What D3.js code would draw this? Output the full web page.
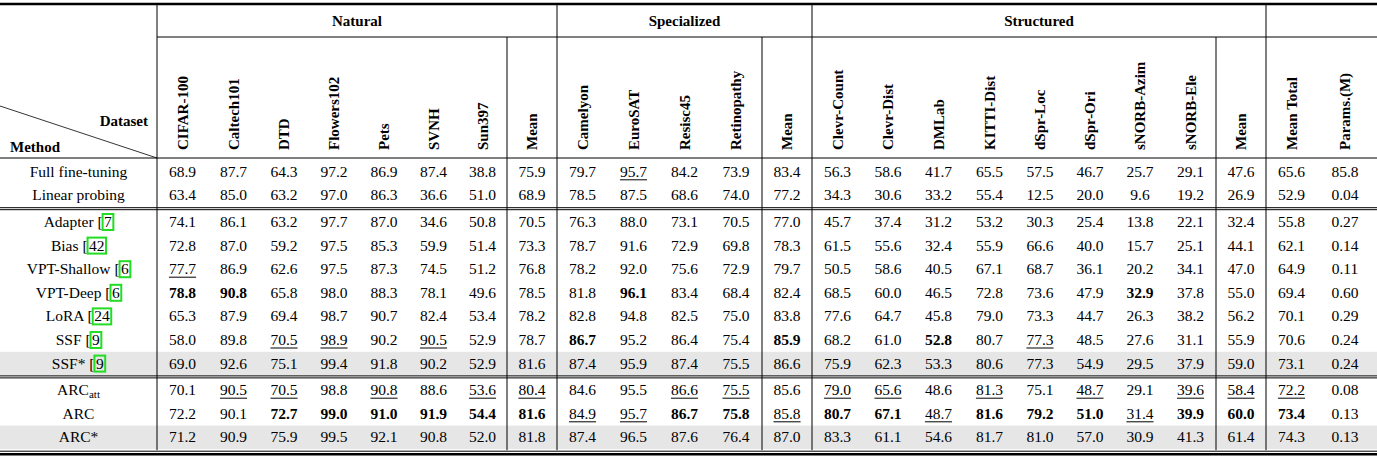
<!DOCTYPE html>
<html>
<head>
<meta charset="utf-8">
<script src="https://cdn.jsdelivr.net/npm/d3@7"></script>
<style>
  body { margin: 0; background: #fff; }
  svg text { font-family: "Liberation Serif", "Times New Roman", serif; fill: #000; }
</style>
</head>
<body>
<svg id="chart" width="1377" height="464"></svg>
<script>
const groups = ['Natural', 'Specialized', 'Structured'];
const columns = [
    'CIFAR-100', 'Caltech101', 'DTD', 'Flowers102', 'Pets', 'SVNH', 'Sun397', 'Mean',
    'Camelyon', 'EuroSAT', 'Resisc45', 'Retinopathy', 'Mean',
    'Clevr-Count', 'Clevr-Dist', 'DMLab', 'KITTI-Dist', 'dSpr-Loc', 'dSpr-Ori', 'sNORB-Azim', 'sNORB-Ele', 'Mean',
    'Mean Total', 'Params.(M)'
];
const methods = ['Full fine-tuning', 'Linear probing', 'Adapter', 'Bias', 'VPT-Shallow', 'VPT-Deep', 'LoRA', 'SSF', 'SSF*', 'ARC_att', 'ARC', 'ARC*'];
const refs = [null, null, '7', '42', '6', '6', '24', '9', '9', null, null, null];

const fullFT   = ['68.9','87.7','64.3','97.2','86.9','87.4','38.8','75.9','79.7','95.7','84.2','73.9','83.4','56.3','58.6','41.7','65.5','57.5','46.7','25.7','29.1','47.6','65.6','85.8'];
const linear   = ['63.4','85.0','63.2','97.0','86.3','36.6','51.0','68.9','78.5','87.5','68.6','74.0','77.2','34.3','30.6','33.2','55.4','12.5','20.0','9.6','19.2','26.9','52.9','0.04'];
const adapter  = ['74.1','86.1','63.2','97.7','87.0','34.6','50.8','70.5','76.3','88.0','73.1','70.5','77.0','45.7','37.4','31.2','53.2','30.3','25.4','13.8','22.1','32.4','55.8','0.27'];
const bias     = ['72.8','87.0','59.2','97.5','85.3','59.9','51.4','73.3','78.7','91.6','72.9','69.8','78.3','61.5','55.6','32.4','55.9','66.6','40.0','15.7','25.1','44.1','62.1','0.14'];
const vptShal  = ['77.7','86.9','62.6','97.5','87.3','74.5','51.2','76.8','78.2','92.0','75.6','72.9','79.7','50.5','58.6','40.5','67.1','68.7','36.1','20.2','34.1','47.0','64.9','0.11'];
const vptDeep  = ['78.8','90.8','65.8','98.0','88.3','78.1','49.6','78.5','81.8','96.1','83.4','68.4','82.4','68.5','60.0','46.5','72.8','73.6','47.9','32.9','37.8','55.0','69.4','0.60'];
const lora     = ['65.3','87.9','69.4','98.7','90.7','82.4','53.4','78.2','82.8','94.8','82.5','75.0','83.8','77.6','64.7','45.8','79.0','73.3','44.7','26.3','38.2','56.2','70.1','0.29'];
const ssf      = ['58.0','89.8','70.5','98.9','90.2','90.5','52.9','78.7','86.7','95.2','86.4','75.4','85.9','68.2','61.0','52.8','80.7','77.3','48.5','27.6','31.1','55.9','70.6','0.24'];
const ssfStar  = ['69.0','92.6','75.1','99.4','91.8','90.2','52.9','81.6','87.4','95.9','87.4','75.5','86.6','75.9','62.3','53.3','80.6','77.3','54.9','29.5','37.9','59.0','73.1','0.24'];
const arcAtt   = ['70.1','90.5','70.5','98.8','90.8','88.6','53.6','80.4','84.6','95.5','86.6','75.5','85.6','79.0','65.6','48.6','81.3','75.1','48.7','29.1','39.6','58.4','72.2','0.08'];
const arc      = ['72.2','90.1','72.7','99.0','91.0','91.9','54.4','81.6','84.9','95.7','86.7','75.8','85.8','80.7','67.1','48.7','81.6','79.2','51.0','31.4','39.9','60.0','73.4','0.13'];
const arcStar  = ['71.2','90.9','75.9','99.5','92.1','90.8','52.0','81.8','87.4','96.5','87.6','76.4','87.0','83.3','61.1','54.6','81.7','81.0','57.0','30.9','41.3','61.4','74.3','0.13'];
const values = [fullFT, linear, adapter, bias, vptShal, vptDeep, lora, ssf, ssfStar, arcAtt, arc, arcStar];

// [row, col] of best (bold) and second best (underlined) results
const boldCells = [[5,0],[5,1],[5,9],[5,19],[7,8],[7,12],[7,15],
    [10,2],[10,3],[10,4],[10,5],[10,6],[10,7],[10,10],[10,11],[10,13],[10,14],[10,16],[10,17],[10,18],[10,20],[10,21],[10,22]];
const underCells = [[0,9],[4,0],[7,2],[7,3],[7,5],[7,17],
    [9,1],[9,2],[9,4],[9,6],[9,7],[9,10],[9,11],[9,13],[9,14],[9,16],[9,18],[9,20],[9,21],[9,22],
    [10,8],[10,9],[10,12],[10,15],[10,19]];
const shadedRows = [8, 11];

const svg = d3.select('#chart');
const W = 1377;
const methodW = 157;

// column edges: widths per column
const colW = [51,51,50,50,50,49,49,50, 51,51,51,52,50, 51,50,51,51,50,50,50,51,50, 51,56];
const edges = [methodW];
colW.forEach(w => edges.push(edges[edges.length - 1] + w));
const x = d3.scaleOrdinal().domain(d3.range(columns.length)).range(colW.map((w, i) => edges[i] + w / 2));

const topY = 4, groupBottom = 37, headBottom = 158, rowH = 23.6, sepGap = 3;
const rowY = i => headBottom + 2 + i * rowH + (i >= 2 ? sepGap : 0) + (i >= 9 ? sepGap : 0);
const tableBottom = rowY(12) + 1;

// shaded rows
shadedRows.forEach(r => {
    svg.append('rect').attr('x', 0).attr('y', rowY(r)).attr('width', W).attr('height', rowH)
        .attr('fill', '#e6e6e6');
});

// horizontal rules
const hline = (y, x1, x2, sw) => svg.append('line').attr('x1', x1).attr('x2', x2)
    .attr('y1', y).attr('y2', y).attr('stroke', '#000').attr('stroke-width', sw);
hline(topY, 0, W, 2.5);
hline(groupBottom, methodW, W, 1);
hline(headBottom, 0, W, 1);
hline(rowY(2) - 2.5, 0, W, 1);
hline(rowY(2) - 0.5, 0, W, 1);
hline(rowY(9) - 2.5, 0, W, 1);
hline(rowY(9) - 0.5, 0, W, 1);
hline(tableBottom + 1, 0, W, 1);
hline(tableBottom + 4, 0, W, 2.5);

// vertical rules
const groupEdges = [edges[0], edges[8], edges[13], edges[22]];
const vline = (xx, y1, y2) => svg.append('line').attr('x1', xx).attr('x2', xx)
    .attr('y1', y1).attr('y2', y2).attr('stroke', '#000').attr('stroke-width', 1);
groupEdges.forEach(e => vline(e, topY + 1, tableBottom));
[edges[7], edges[12], edges[21]].forEach(e => vline(e, groupBottom, tableBottom));

// group headers
const groupSpan = [[0, 8], [8, 13], [13, 22]];
groups.forEach((g, i) => {
    svg.append('text').attr('x', (edges[groupSpan[i][0]] + edges[groupSpan[i][1]]) / 2).attr('y', 26)
        .attr('text-anchor', 'middle').attr('font-size', 15).attr('font-weight', 'bold').text(g);
});

// rotated column headers
columns.forEach((c, i) => {
    svg.append('text')
        .attr('transform', `translate(${x(i) + 5},${headBottom - 8}) rotate(-90)`)
        .attr('font-size', 15).attr('font-weight', 'bold').text(c);
});

// corner cell
svg.append('line').attr('x1', 0).attr('y1', 106).attr('x2', methodW).attr('y2', headBottom)
    .attr('stroke', '#000').attr('stroke-width', 0.8);
svg.append('text').attr('x', 148).attr('y', 126).attr('text-anchor', 'end')
    .attr('font-size', 15).attr('font-weight', 'bold').text('Dataset');
svg.append('text').attr('x', 10).attr('y', 152)
    .attr('font-size', 15).attr('font-weight', 'bold').text('Method');

// method names
methods.forEach((m, r) => {
    const cy = rowY(r) + rowH / 2 + 5;
    const t = svg.append('text').attr('y', cy).attr('font-size', 15.5);
    if (m === 'ARC_att') {
        t.append('tspan').text('ARC');
        t.append('tspan').attr('font-size', 11).attr('dy', 3).text('att');
    } else {
        t.text(refs[r] ? `${m} [` : m);
    }
    const tw = t.node().getComputedTextLength();
    let boxW = 0;
    if (refs[r]) {
        const tmp = svg.append('text').attr('font-size', 15.5).text(refs[r]);
        boxW = tmp.node().getComputedTextLength() + 3;
        tmp.remove();
    }
    const startX = methodW / 2 - (tw + boxW) / 2;
    t.attr('x', startX);
    if (refs[r]) {
        const bx = startX + tw;
        svg.append('rect').attr('x', bx).attr('y', cy - 13).attr('width', boxW).attr('height', 16)
            .attr('fill', 'none').attr('stroke', '#22dd22').attr('stroke-width', 2);
        svg.append('text').attr('x', bx + 1.5).attr('y', cy).attr('font-size', 15.5).text(refs[r]);
    }
});

// values
const isIn = (list, r, c) => list.some(d => d[0] === r && d[1] === c);
values.forEach((row, r) => {
    const cy = rowY(r) + rowH / 2 + 5;
    row.forEach((v, c) => {
        const t = svg.append('text').attr('x', x(c)).attr('y', cy).attr('text-anchor', 'middle')
            .attr('font-size', 15.5).attr('font-weight', isIn(boldCells, r, c) ? 'bold' : 'normal').text(v);
        if (isIn(underCells, r, c)) {
            const w = t.node().getComputedTextLength();
            svg.append('line').attr('x1', x(c) - w / 2).attr('x2', x(c) + w / 2)
                .attr('y1', cy + 3).attr('y2', cy + 3).attr('stroke', '#000').attr('stroke-width', 1);
        }
    });
});
</script>
</body>
</html>
